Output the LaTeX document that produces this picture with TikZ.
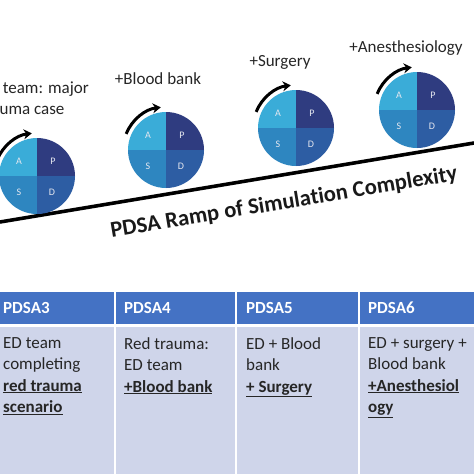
\documentclass[tikz,border=0pt]{standalone}
\usepackage{fontspec}
\setmainfont{Carlito}
\usetikzlibrary{arrows.meta,calc}
\definecolor{qA}{HTML}{3AACD8}
\definecolor{qP}{HTML}{2F3C80}
\definecolor{qS}{HTML}{2E86C0}
\definecolor{qD}{HTML}{2D5DA3}
\definecolor{hdr}{HTML}{4472C4}
\definecolor{bodyc}{HTML}{CFD5EA}
\tikzset{
  quadlbl/.style={text=white!88!qP, font=\fontsize{10}{12}\selectfont},
  toplbl/.style={font=\fontsize{17}{21}\selectfont, align=center, text=black!85},
  hdrcell/.style={fill=hdr, draw=none},
  bodycell/.style={fill=bodyc, draw=none},
  hdrtxt/.style={anchor=west, text=white, font=\bfseries\fontsize{17}{21}\selectfont},
  bodytxt/.style={anchor=north west, align=left, inner sep=0pt, text=black!85, font=\fontsize{17}{21.5}\selectfont},
  cyclearrow/.style={line width=3pt, black, -{Stealth[length=8pt,width=10pt]}},
}
% y axis points down: code angle = - visual angle
\newcommand{\pdsacircle}[3]{%
  \fill[qA] (#1,#2) -- ++(-38,0) arc[start angle=-180,end angle=-90,radius=38] -- cycle;
  \fill[qP] (#1,#2) -- ++(0,-38) arc[start angle=-90,end angle=0,radius=38] -- cycle;
  \fill[qS] (#1,#2) -- ++(-38,0) arc[start angle=180,end angle=90,radius=38] -- cycle;
  \fill[qD] (#1,#2) -- ++(38,0) arc[start angle=0,end angle=90,radius=38] -- cycle;
  \node[quadlbl] (#3A) at ($(#1,#2)+(-18,-15)$) {A};
  \node[quadlbl] (#3P) at ($(#1,#2)+(16,-15)$) {P};
  \node[quadlbl] (#3S) at ($(#1,#2)+(-18,16)$) {S};
  \node[quadlbl] (#3D) at ($(#1,#2)+(15,16)$) {D};
  \draw[cyclearrow] ($(#1,#2)+(-158:43)$) arc[start angle=-158,end angle=-97,radius=43];
}
\begin{document}
\begin{tikzpicture}[x=1pt,y=-1pt]
\useasboundingbox (0,0) rectangle (474,474);
\clip (0,0) rectangle (474,474);
\fill[white] (0,0) rectangle (474,474);
% ramp
\coordinate (r0) at (0,222);
\coordinate (r1) at (474,143);
\draw[line width=3.6pt, black] (r0) -- (r1);
\node[anchor=base, rotate=9.46, inner sep=0pt, font=\bfseries\fontsize{22.6}{25}\selectfont\addfontfeatures{Ligatures=NoCommon}, text=black!90] (ramp) at (285,209) {PDSA Ramp of Simulation Complexity};
% circles
\pdsacircle{37}{176}{c1}
\pdsacircle{166}{150}{c2}
\pdsacircle{296}{128}{c3}
\pdsacircle{417}{110}{c4}
% labels
\node[toplbl, align=left, anchor=west, inner sep=0pt] (l1) at (-20,98) {ED team: major\\trauma case};
\node[toplbl, inner sep=0pt] (l2) at (158,79) {+Blood bank};
\node[toplbl, inner sep=0pt] (l3) at (280,62) {+Surgery};
\node[toplbl, inner sep=0pt] (l4) at (406,48) {+Anesthesiology};
% table
\fill[hdrcell] (-10,292) rectangle (114,324);
\fill[hdrcell] (116,292) rectangle (235,324);
\fill[hdrcell] (237,292) rectangle (358,324);
\fill[hdrcell] (360,292) rectangle (484,324);
\fill[bodycell] (-10,327) rectangle (114,484);
\fill[bodycell] (116,327) rectangle (235,484);
\fill[bodycell] (237,327) rectangle (358,484);
\fill[bodycell] (360,327) rectangle (484,484);
\node[hdrtxt, inner sep=0pt] (h1) at (3,308) {PDSA3};
\node[hdrtxt, inner sep=0pt] (h2) at (124,308) {PDSA4};
\node[hdrtxt, inner sep=0pt] (h3) at (246,308) {PDSA5};
\node[hdrtxt, inner sep=0pt] (h4) at (368,308) {PDSA6};
\node[bodytxt] (b1) at (3,337) {ED team\\completing\\\underline{\textbf{red trauma}}\\\underline{\textbf{scenario}}};
\node[bodytxt] (b2) at (124,337) {Red trauma:\\ED team\\\underline{\textbf{+Blood bank}}};
\node[bodytxt] (b3) at (246,337) {ED + Blood\\bank\\\underline{\textbf{+ Surgery}}};
\node[bodytxt] (b4) at (368,337) {ED + surgery +\\Blood bank\\\underline{\textbf{+Anesthesiol}}\\\underline{\textbf{ogy}}};
\end{tikzpicture}
\end{document}
